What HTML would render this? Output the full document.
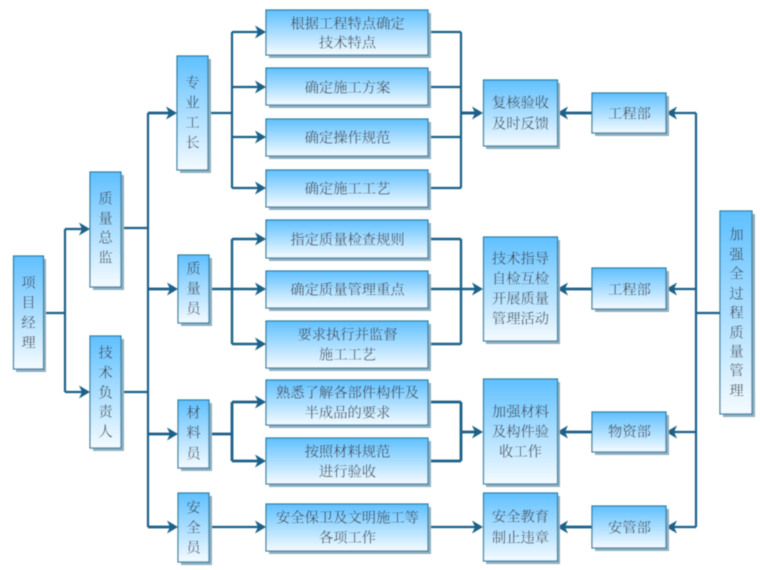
<!DOCTYPE html>
<html><head><meta charset="utf-8"><style>html,body{margin:0;padding:0;background:#fff}svg{display:block}
text{font-family:"Liberation Serif","Noto Serif CJK SC",serif;font-size:14.3px;fill:#3a3f48;text-anchor:middle;dominant-baseline:central}</style></head>
<body><svg width="760" height="570" viewBox="0 0 760 570" xmlns="http://www.w3.org/2000/svg">
<defs><linearGradient id="g" x1="0" y1="0" x2="0" y2="1"><stop offset="0" stop-color="#5fc0ff"/><stop offset="1" stop-color="#f5fbff"/></linearGradient>
<filter id="b" x="-5%" y="-5%" width="110%" height="110%"><feGaussianBlur stdDeviation="0.4"/></filter>
<g id="ar"><polygon points="0,0 -11,-6.5 -8,0 -11,6.5" fill="#1a6088"/></g>
<g id="al"><polygon points="0,0 11,-6.5 8,0 11,6.5" fill="#1a6088"/></g></defs>
<g filter="url(#b)">
<g fill="none" stroke="#1a6088" stroke-width="2.2">
<path d="M43 313H65M65 229V392M65 229H82M65 392H82"/>
<path d="M120 228H148M148 113V527M120 392H148" />
<path d="M148 113H170M148 289H170M148 434H170M148 527H170" stroke-width="2.8"/>
<path d="M208 113H232M232 32V188M232 32H258M232 87H258M232 137H258M232 188H258"/>
<path d="M209 289H258M232 239V344M232 239H258M232 344H258" stroke-width="2.4"/>
<path d="M209 434H232M232 402V461M232 402H258M232 461H258" stroke-width="2.8"/>
<path d="M209 527H258"/>
<path d="M428 32H461M428 87H461M428 137H461M428 188H461M461 32V188"/>
<path d="M461 113H475" stroke-width="3"/>
<path d="M428 239H461M428 289H475M428 344H461M461 239V344" stroke-width="2.4"/>
<path d="M428 402H461M428 461H461M461 402V461M461 432H475" stroke-width="2.8"/>
<path d="M428 527H475"/>
<path d="M565 113H592M565 289H592M565 432H592M565 527H592" stroke-width="2.8"/>
<path d="M674 113H696M696 113V527M674 289H696M674 432H696M674 527H696M696 313H720"/>
</g>
<use href="#ar" x="90" y="229"/><use href="#ar" x="90" y="392"/>
<use href="#ar" x="177" y="113"/><use href="#ar" x="178" y="289"/><use href="#ar" x="178" y="434"/><use href="#ar" x="178" y="527"/>
<use href="#ar" x="266" y="32"/><use href="#ar" x="266" y="87"/><use href="#ar" x="266" y="137"/><use href="#ar" x="266" y="188"/>
<use href="#ar" x="266" y="239"/><use href="#ar" x="266" y="289"/><use href="#ar" x="266" y="344"/>
<use href="#ar" x="266" y="402"/><use href="#ar" x="266" y="461"/><use href="#ar" x="266" y="527"/>
<use href="#ar" x="483" y="113"/><use href="#ar" x="483" y="289"/><use href="#ar" x="483" y="432"/><use href="#ar" x="483" y="527"/>
<use href="#al" x="557" y="113"/><use href="#al" x="557" y="289"/><use href="#al" x="557" y="432"/><use href="#al" x="557" y="527"/>
<use href="#al" x="666" y="113"/><use href="#al" x="666" y="289"/><use href="#al" x="666" y="432"/><use href="#al" x="666" y="527"/>
<g fill="#8fb0c0">
<rect x="16" y="259" width="30" height="113"/><rect x="93" y="175" width="31" height="115"/><rect x="93" y="339" width="31" height="112"/>
<rect x="180" y="59" width="31" height="114"/><rect x="181" y="258" width="31" height="68"/><rect x="181" y="403" width="31" height="68"/><rect x="181" y="496" width="31" height="69"/>
<rect x="269" y="13" width="162" height="45"/><rect x="269" y="71" width="162" height="37"/><rect x="269" y="122" width="162" height="37"/><rect x="269" y="173" width="162" height="37"/><rect x="269" y="223" width="162" height="38"/><rect x="269" y="274" width="162" height="37"/><rect x="269" y="324" width="162" height="47"/><rect x="269" y="383" width="162" height="45"/><rect x="269" y="441" width="162" height="46"/><rect x="269" y="507" width="162" height="47"/>
<rect x="486" y="83" width="74" height="66"/><rect x="486" y="240" width="74" height="104"/><rect x="486" y="382" width="74" height="105"/><rect x="486" y="496" width="74" height="68"/>
<rect x="595" y="96" width="74" height="40"/><rect x="595" y="271" width="74" height="41"/><rect x="595" y="415" width="74" height="40"/><rect x="595" y="509" width="74" height="42"/>
<rect x="723" y="214" width="32" height="203"/>
</g>
<g fill="url(#g)" stroke="#2b7b9f" stroke-width="1.2">
<rect x="13.5" y="256" width="30" height="113"/><rect x="90" y="172" width="31" height="115"/><rect x="90" y="336" width="31" height="112"/>
<rect x="177" y="56" width="31" height="114"/><rect x="178" y="255" width="31" height="68"/><rect x="178" y="400" width="31" height="68"/><rect x="178" y="493" width="31" height="69"/>
<rect x="266" y="10" width="162" height="45"/><rect x="266" y="68" width="162" height="37"/><rect x="266" y="119" width="162" height="37"/><rect x="266" y="170" width="162" height="37"/><rect x="266" y="220" width="162" height="38"/><rect x="266" y="271" width="162" height="37"/><rect x="266" y="321" width="162" height="47"/><rect x="266" y="380" width="162" height="45"/><rect x="266" y="438" width="162" height="46"/><rect x="266" y="504" width="162" height="47"/>
<rect x="483.5" y="80" width="74" height="66"/><rect x="483.5" y="237" width="74" height="104"/><rect x="483.5" y="379" width="74" height="105"/><rect x="483.5" y="493" width="74" height="68"/>
<rect x="592" y="93" width="74" height="40"/><rect x="592" y="268" width="74" height="41"/><rect x="592" y="412" width="74" height="40"/><rect x="592" y="506" width="74" height="42"/>
<rect x="720" y="211" width="32" height="203"/>
</g>
<g transform="translate(0.5,1.5)">
<text x="28" y="282">项</text><text x="28" y="302">目</text><text x="28" y="322">经</text><text x="28" y="342">理</text>
<text x="105" y="198">质</text><text x="105" y="218">量</text><text x="105" y="237">总</text><text x="105" y="257">监</text>
<text x="105" y="352">技</text><text x="105" y="372">术</text><text x="105" y="392">负</text><text x="105" y="411">责</text><text x="105" y="431">人</text>
<text x="192" y="82">专</text><text x="192" y="102">业</text><text x="192" y="122">工</text><text x="192" y="142">长</text>
<text x="193" y="268">质</text><text x="193" y="288">量</text><text x="193" y="308">员</text>
<text x="193" y="412">材</text><text x="193" y="432">料</text><text x="193" y="453">员</text>
<text x="193" y="507">安</text><text x="193" y="527">全</text><text x="193" y="547">员</text>
<text x="347" y="23">根据工程特点确定</text><text x="347" y="42">技术特点</text>
<text x="347" y="87">确定施工方案</text><text x="347" y="137">确定操作规范</text><text x="347" y="188">确定施工工艺</text>
<text x="347" y="239">指定质量检查规则</text><text x="347" y="289">确定质量管理重点</text>
<text x="347" y="334">要求执行并监督</text><text x="347" y="354">施工工艺</text>
<text x="347" y="392">熟悉了解各部件构件及</text><text x="347" y="412">半成品的要求</text>
<text x="347" y="451">按照材料规范</text><text x="347" y="471">进行验收</text>
<text x="347" y="517">安全保卫及文明施工等</text><text x="347" y="537">各项工作</text>
<text x="520" y="102">复核验收</text><text x="520" y="123">及时反馈</text>
<text x="520" y="258">技术指导</text><text x="520" y="278">自检互检</text><text x="520" y="298">开展质量</text><text x="520" y="318">管理活动</text>
<text x="520" y="411">加强材料</text><text x="520" y="431">及构件验</text><text x="520" y="451">收工作</text>
<text x="520" y="516">安全教育</text><text x="520" y="537">制止违章</text>
<text x="629" y="113">工程部</text><text x="629" y="289">工程部</text><text x="629" y="431">物资部</text><text x="629" y="527">安管部</text>
<text x="736" y="234">加</text><text x="736" y="254">强</text><text x="736" y="273">全</text><text x="736" y="293">过</text><text x="736" y="312">程</text><text x="736" y="332">质</text><text x="736" y="351">量</text><text x="736" y="370">管</text><text x="736" y="390">理</text>
</g>
</g></svg></body></html>
